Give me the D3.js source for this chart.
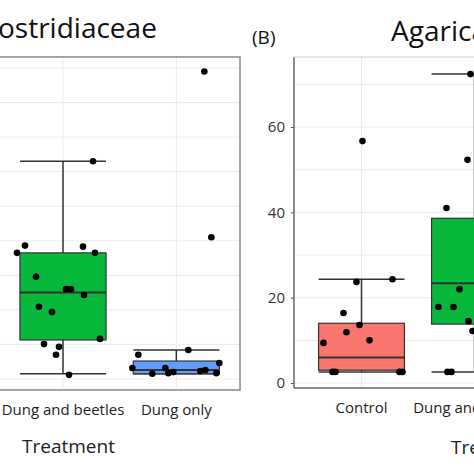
<!DOCTYPE html><html><head><script src="https://cdn.jsdelivr.net/npm/d3@7"></script>
<style>body{margin:0;background:#fff}text{font-family:"Open Sans",Arial,sans-serif}</style></head><body>
<script>
// Left panel (Clostridiaceae) - values in arbitrary relative units
const leftCats=["Control","Dung and beetles","Dung only"];
const leftBoxes=[null,{lo:1.5,q1:11.3,med:25,q3:36.5,hi:63},{lo:1.5,q1:1.5,med:2.6,q3:5.2,hi:8.4}];
const leftDB=[38.6,36.5,38.3,36.5,29.6,26,26,24.3,20.9,19.4,11.6,10.1,9.3,7,1.2,63];
const leftDBj=[-38,-46,20,32,-27,3,8,21,-24,-11,37,-19,-4,-7,6,30];
const leftDO=[89,41,8.4,7,4.6,3.2,3.2,1.5,1.7,2,2.3,2.6,1.7];
const leftDOj=[28,35,12,-38,43,-44,-11,-24,-8,-3,24,29,40];
// Right panel (Agaricaceae)
const rightCats=["Control","Dung and beetles"];
const rightBoxes=[{lo:2.6,q1:3,med:6,q3:14,hi:24.3},{lo:2.6,q1:13.8,med:23.4,q3:38.6,hi:72.4}];
const rightC=[56.7,24.3,23.7,16.4,13.6,11.9,10,9.4,2.6,2.6,2.6,2.6];
const rightCj=[1,31,-5,-18,-2,-15,8,-38,-29,-26,38,41];
const rightDB=[72.4,52.3,41,22,17.8,17.8,14.5,12.2,2.6,2.6];
const rightDBj=[-4,-7,-28,-15,-36,-21,-6,-2,-27,-23];
const rightTicks=[0,20,40,60];
const colors={"Control":"#F8766D","Dung and beetles":"#08B83A","Dung only":"#619CFF"};

const svg=d3.select("body").append("svg").attr("width",474).attr("height",474);

function panel(cats,boxes,pts,xr,yScale,top,bottom,left,right,gridVals,border){
  const x=d3.scaleBand().domain(cats).range(xr).paddingInner(0).paddingOuter(0);
  const g=svg.append("g");
  g.selectAll(".gl").data(gridVals).join("line").attr("x1",left).attr("x2",right)
    .attr("y1",d=>yScale(d)).attr("y2",d=>yScale(d)).attr("stroke","#ebebeb").attr("stroke-width",1);
  cats.forEach(c=>{const cx=x(c)+x.bandwidth()/2;
    g.append("line").attr("x1",cx).attr("x2",cx).attr("y1",top).attr("y2",bottom).attr("stroke","#ebebeb");});
  boxes.forEach((b,i)=>{if(!b)return;const c=cats[i];const cx=x(c)+x.bandwidth()/2;const hw=x.bandwidth()*0.38;
    g.append("line").attr("x1",cx).attr("x2",cx).attr("y1",yScale(b.hi)).attr("y2",yScale(b.lo)).attr("stroke","#333").attr("stroke-width",1.5);
    [b.hi,b.lo].forEach(v=>g.append("line").attr("x1",cx-hw).attr("x2",cx+hw).attr("y1",yScale(v)).attr("y2",yScale(v)).attr("stroke","#333").attr("stroke-width",1.5));
    g.append("rect").attr("x",cx-hw).attr("width",2*hw).attr("y",yScale(b.q3)).attr("height",yScale(b.q1)-yScale(b.q3))
      .attr("fill",colors[c]).attr("stroke","#333").attr("stroke-width",1.2);
    g.append("line").attr("x1",cx-hw).attr("x2",cx+hw).attr("y1",yScale(b.med)).attr("y2",yScale(b.med)).attr("stroke","#333").attr("stroke-width",2);
  });
  pts.forEach(([c,vals,jit])=>{const cx=x(c)+x.bandwidth()/2;
    g.selectAll(null).data(vals).join("circle").attr("cx",(d,i)=>cx+jit[i]).attr("cy",d=>yScale(d)).attr("r",3.3).attr("fill","#000");});
  if(border) g.append("rect").attr("x",left).attr("y",top).attr("width",right-left).attr("height",bottom-top).attr("fill","none").attr("stroke","#888").attr("stroke-width",1.5);
  return x;
}
// left
const yL=d3.scaleLinear().domain([0,90]).range([379,68]);
const xL=panel(leftCats,leftBoxes,[["Dung and beetles",leftDB,leftDBj],["Dung only",leftDO,leftDOj]],[-107,233],yL,57,390,-10,240,d3.range(0,91,10),true);
["Dung and beetles","Dung only"].forEach(c=>svg.append("text").attr("x",xL(c)+xL.bandwidth()/2).attr("y",415).attr("text-anchor","middle").attr("font-size",15).attr("fill","#222").text(c));
svg.append("text").attr("x",22).attr("y",453).attr("font-size",19).attr("fill","#222").text("Treatment");
svg.append("text").attr("x",-2).attr("y",38).attr("font-size",28).attr("fill","#111").text("ostridiaceae");
// right
const yR=d3.scaleLinear().domain([0,60]).range([383,127]);
const xR=panel(rightCats,rightBoxes,[["Control",rightC,rightCj],["Dung and beetles",rightDB,rightDBj]],[305,531],yR,57,388,294,484,[0,10,20,30,40,50,60,70],false);
svg.append("g").attr("transform","translate(294,0)").call(d3.axisLeft(yR).tickValues(rightTicks).tickSize(3).tickPadding(6))
 .call(g=>{g.select(".domain").remove();g.selectAll("text").attr("font-size",15).attr("fill","#333");g.selectAll("line").attr("stroke","#555");});
svg.append("line").attr("x1",294).attr("x2",294).attr("y1",57).attr("y2",388).attr("stroke","#666").attr("stroke-width",1.5);
svg.append("line").attr("x1",294).attr("x2",474).attr("y1",388).attr("y2",388).attr("stroke","#666").attr("stroke-width",1.5);
svg.append("line").attr("x1",294).attr("x2",474).attr("y1",57).attr("y2",57).attr("stroke","#ccc").attr("stroke-width",1);
rightCats.forEach(c=>svg.append("text").attr("x",xR(c)+xR.bandwidth()/2).attr("y",413).attr("text-anchor","middle").attr("font-size",15).attr("fill","#222").text(c));
svg.append("text").attr("x",451).attr("y",454).attr("font-size",19).attr("fill","#222").text("Treatment");
svg.append("text").attr("x",252).attr("y",44).attr("font-size",19).attr("fill","#111").text("(B)");
svg.append("text").attr("x",391).attr("y",41).attr("font-size",28).attr("fill","#111").text("Agaricaceae");
</script></body></html>
